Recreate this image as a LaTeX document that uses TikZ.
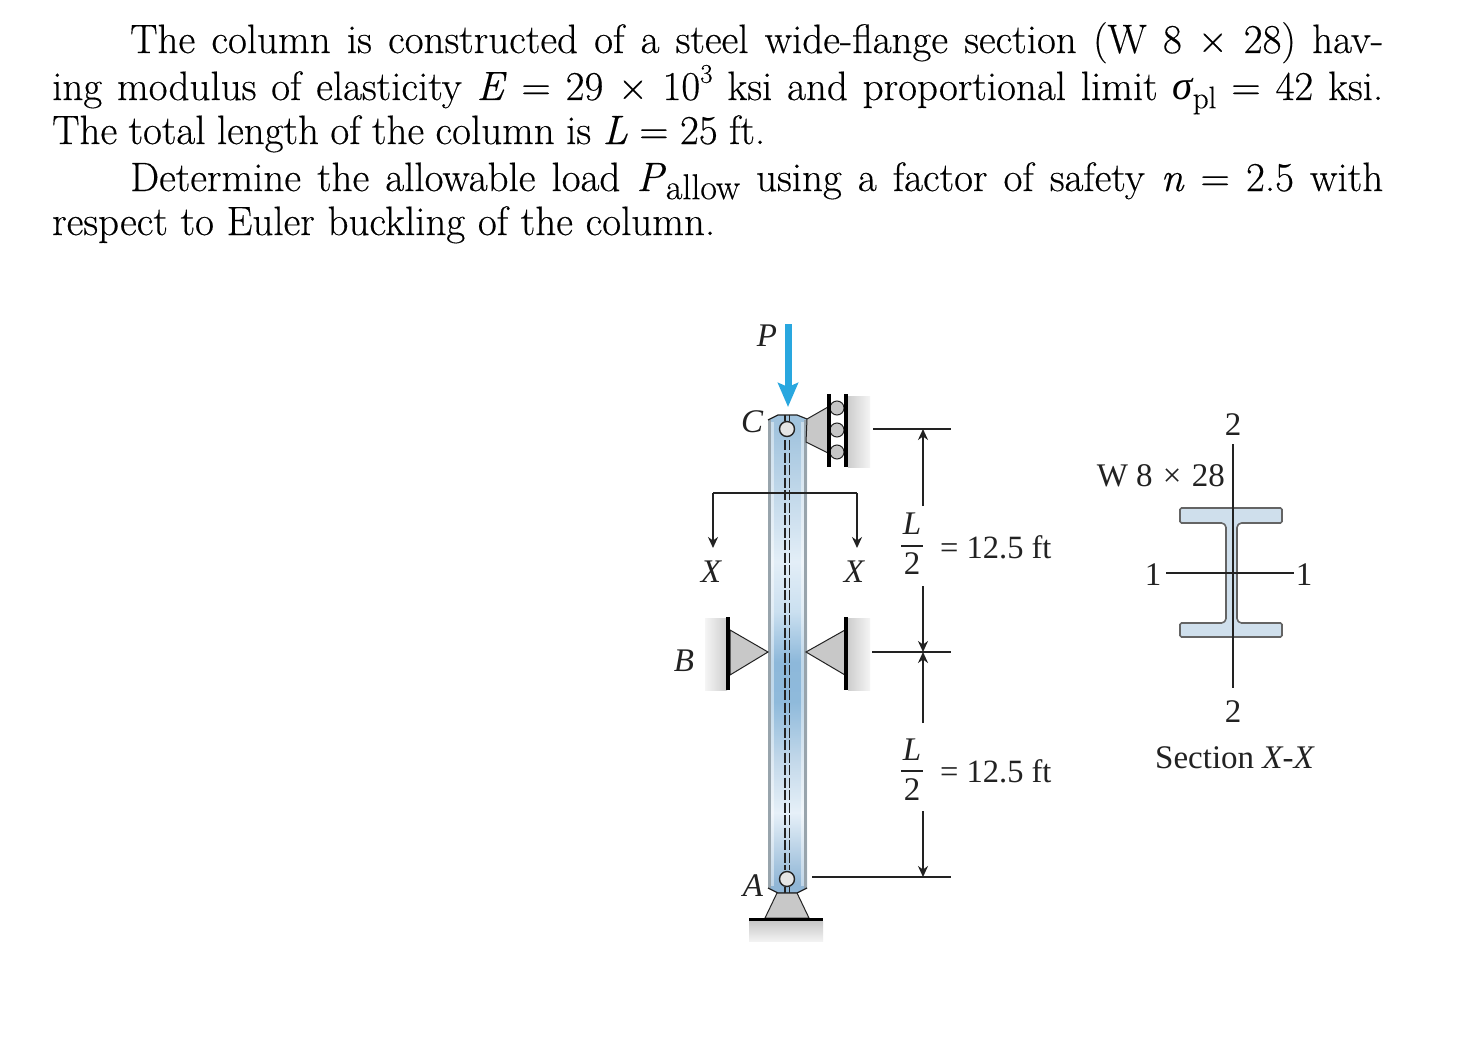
\documentclass[tikz,border=0pt]{standalone}
\usepackage{fontspec}
\setmainfont{Latin Modern Roman}[FakeBold=0.35]
\usetikzlibrary{arrows.meta}
\newfontfamily\lblfont{Liberation Serif}
\newcommand{\subtxt}[2]{\raisebox{-.2em}{\fontsize{#1}{30}\selectfont #2}}
\newcommand{\suptxt}[1]{\raisebox{.42em}{\fontsize{27}{30}\selectfont #1}}
\newcommand{\jline}[2]{\hbox to #1{\spaceskip=.2em plus 1em\relax #2}}
\definecolor{ink}{HTML}{222222}
\definecolor{edgegray}{HTML}{98A4AC}
\definecolor{supgray}{HTML}{C8C8C8}
\definecolor{pblue}{HTML}{29A7DF}
\definecolor{secblue}{HTML}{CFDFEC}
\definecolor{c1}{HTML}{90B6D6}\definecolor{c2}{HTML}{E6F0F8}\definecolor{c3}{HTML}{C4D9EA}
\definecolor{c4}{HTML}{8FBADB}\definecolor{c5}{HTML}{8DB8DA}\definecolor{c6}{HTML}{CBE0F0}
\definecolor{c7}{HTML}{E3EEF7}\definecolor{c8}{HTML}{A2C4DE}
\pgfdeclareverticalshading{colshade}{100bp}{
 color(0bp)=(c1); color(26bp)=(c1); color(33.4bp)=(c2); color(38.7bp)=(c3); color(45bp)=(c4);
 color(49.2bp)=(c5); color(54.5bp)=(c6); color(59.7bp)=(c7); color(73.4bp)=(c8); color(100bp)=(c8)}
\tikzset{
 x=1pt,y=-1pt,
 para/.style={anchor=base west,inner sep=0pt,text=black,font=\fontsize{41}{44}\selectfont},
 lbl/.style={inner sep=0pt,text=ink,font=\lblfont\fontsize{33}{34}\selectfont},
 ilbl/.style={lbl,font=\lblfont\itshape\fontsize{33}{34}\selectfont},
 dimlbl/.style={lbl,anchor=west,font=\lblfont\fontsize{32.5}{34}\selectfont},
 thin line/.style={draw=ink,line width=1.8pt},
 dim/.style={draw=ink,line width=1.8pt,-{Stealth[length=11pt,width=10pt]}},
 plate/.style={draw=black,line width=3.6pt},
 supp/.style={fill=supgray,draw=ink,line width=1pt},
 pin/.style={circle,draw=ink,fill=gray!20,line width=1.4pt,minimum size=15pt,inner sep=0pt},
 roller/.style={circle,draw=ink,fill=gray!45,line width=1pt,minimum size=14pt,inner sep=0pt},
 hidden/.style={draw=ink,line width=1.7pt,dash pattern=on 10pt off 2.5pt},
 fracbar/.style={draw=ink,line width=1.2pt},
}
\begin{document}
\begin{tikzpicture}
\useasboundingbox (0,0) rectangle (1458,1046);
\fill[white] (0,0) rectangle (1458,1046);
% paragraph
\node[para] (t1) at (130,53) {\jline{1253pt}{The column is constructed of a steel wide-flange section (W 8 × 28) hav-}};
\node[para] (t2) at (52,100) {\jline{1331pt}{ing modulus of elasticity \textit{E} = 29 × 10\suptxt{3} ksi and proportional limit {\lblfont\itshape σ}\subtxt{31}{pl} = 42 ksi.}};
\node[para] (t3) at (52,144) {\jline{713pt}{The total length of the column is \textit{L} = 25 ft.}};
\node[para] (t4) at (130,191) {\jline{1253pt}{Determine the allowable load \textit{P}\subtxt{36}{allow} using a factor of safety \textit{n} = 2.5 with}};
\node[para] (t5) at (52,235) {\jline{663pt}{respect to Euler buckling of the column.}};
% walls
\shade[left color=supgray!90,right color=gray!8] (848,396) rectangle (870,467);
\shade[left color=supgray!90,right color=gray!8] (848,618) rectangle (870,690);
\shade[right color=supgray!90,left color=gray!8] (705,618) rectangle (727,690);
\shade[top color=supgray,bottom color=gray!10] (749,921) rectangle (823,941);
% column
\shade[shading=colshade] (768,420) -- (778,415) -- (797,415) -- (807,419) -- (807,888) -- (797,893) -- (778,893) -- (768,888) -- cycle;
\draw[edgegray,line width=2.4pt] (769.5,420) -- (769.5,888);
\draw[edgegray,line width=2.4pt] (805.5,420) -- (805.5,888);
\draw[white,opacity=.45,line width=2.5pt] (772.5,422) -- (772.5,886);
\draw[white,opacity=.45,line width=2.5pt] (802.5,422) -- (802.5,886);
\draw[ink,line width=1.2pt] (768,420) -- (778,415) -- (797,415) -- (807,419);
\draw[ink,line width=1.2pt] (768,888) -- (778,893) -- (797,893) -- (807,888);
\coordinate (hl1) at (785,440); \coordinate (hl2) at (785,870);
\coordinate (hr1) at (789.5,440); \coordinate (hr2) at (789.5,870);
\draw[hidden] (hl1) -- (hl2);
\draw[hidden] (hr1) -- (hr2);
\draw[ink,line width=1.2pt] (785,415) -- (785,421) (789.5,415) -- (789.5,421) (785,887) -- (785,893) (789.5,887) -- (789.5,893);
\node[pin] (pinC) at (787,429) {};
\node[pin] (pinA) at (787,879) {};
% roller support C
\draw[supp] (807,419) -- (828,407) -- (828,453) -- (806,442) -- cycle;
\node[roller] (r1) at (837,408) {};
\node[roller] (r2) at (837,430) {};
\node[roller] (r3) at (837,452) {};
\draw[plate] (829,394) -- (829,467);
\draw[plate] (846,394) -- (846,467);
% supports B
\draw[supp] (730,630) -- (768,652) -- (730,675) -- cycle;
\draw[supp] (845,630) -- (806,652) -- (845,675) -- cycle;
\draw[plate] (728,617) -- (728,690);
\draw[plate] (846,617) -- (846,690);
% support A
\draw[supp] (777,893) -- (797,893) -- (809,918) -- (765,918) -- cycle;
\draw[black,line width=3.6pt] (749,919.5) -- (823,919.5);
% load
\coordinate (Ptop) at (788,324);
\coordinate (Ptip) at (788,407);
\draw[pblue,line width=7pt,-{Stealth[length=24pt,width=20pt,inset=4pt]}] (Ptop) -- (Ptip);
\node[ilbl] (P) at (767,336) {P};
\node[ilbl] (C) at (752,422) {C};
\node[ilbl] (B) at (684,661) {B};
\node[ilbl] (A) at (753,886) {A};
% section cut
\coordinate (sL) at (713,493); \coordinate (sR) at (857,493);
\coordinate (sLb) at (713,548); \coordinate (sRb) at (857,548);
\draw[thin line] (sR) -- (sL);
\draw[dim] (sL) -- (sLb);
\draw[dim] (sR) -- (sRb);
\node[ilbl] (X1) at (711,572) {X};
\node[ilbl] (X2) at (854,572) {X};
% dimensions
\coordinate (d1a) at (873,429); \coordinate (d1b) at (951,429);
\coordinate (d2a) at (872,652); \coordinate (d2b) at (951,652);
\coordinate (d3a) at (812,877); \coordinate (d3b) at (951,877);
\draw[thin line] (d1a) -- (d1b);
\draw[thin line] (d2a) -- (d2b);
\draw[thin line] (d3a) -- (d3b);
\coordinate (v1) at (923,506); \coordinate (v1t) at (923,429);
\coordinate (v2) at (923,586); \coordinate (v2t) at (923,652);
\coordinate (v3) at (923,723); \coordinate (v3t) at (923,652);
\coordinate (v4) at (923,811); \coordinate (v4t) at (923,877);
\draw[dim] (v1) -- (v1t);
\draw[dim] (v2) -- (v2t);
\draw[dim] (v3) -- (v3t);
\draw[dim] (v4) -- (v4t);
\node[ilbl] (L1) at (912,524) {L};
\node[lbl] (two1) at (912,564) {2};
\draw[fracbar] (901,546) -- (923,546);
\node[dimlbl] (eq1) at (940,547) {= 12.5 ft};
\node[ilbl] (L2) at (912,750) {L};
\node[lbl] (two2) at (912,790) {2};
\draw[fracbar] (901,771) -- (923,771);
\node[dimlbl] (eq2) at (940,771) {= 12.5 ft};
% cross section
\draw[fill=secblue,draw=ink!70,line width=1.6pt,rounded corners=1.5pt]
 (1180,508) -- (1282,508) -- (1282,523) -- (1240,523) -- (1237,526) -- (1237,620) -- (1240,623) -- (1282,623) -- (1282,637)
 -- (1180,637) -- (1180,623) -- (1223,623) -- (1226,620) -- (1226,526) -- (1223,523) -- (1180,523) -- cycle;
\coordinate (a1) at (1233,444); \coordinate (a2) at (1233,688);
\coordinate (b1) at (1166,573); \coordinate (b2) at (1294,573);
\draw[thin line] (a1) -- (a2);
\draw[thin line] (b1) -- (b2);
\node[lbl] (s2t) at (1233,425) {2};
\node[lbl] (s2b) at (1233,712) {2};
\node[lbl] (s1l) at (1153,575) {1};
\node[lbl] (s1r) at (1304,575) {1};
\node[lbl,anchor=east] (wl) at (1225,476) {W 8\kern2pt{} × \kern2pt 28};
\node[lbl] (sec) at (1235,758) {Section \textit{X-X}};
\end{tikzpicture}
\end{document}
